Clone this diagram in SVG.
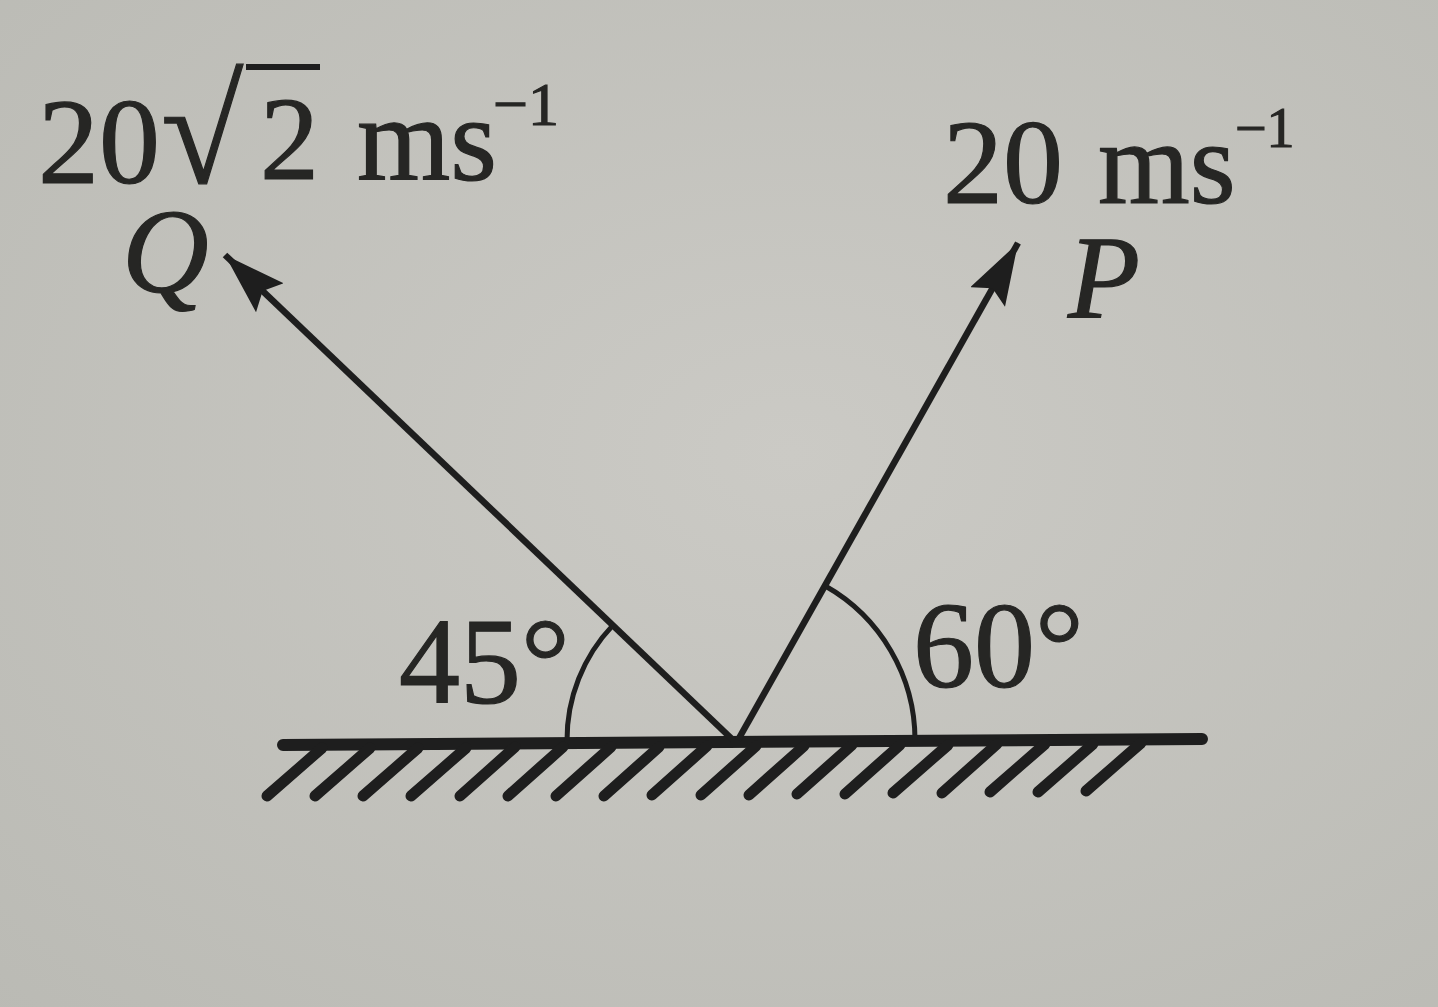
<svg xmlns="http://www.w3.org/2000/svg" width="1438" height="1007" viewBox="0 0 1438 1007">
<defs>
<radialGradient id="bg" cx="0.55" cy="0.45" r="0.8">
<stop offset="0" stop-color="#cbcac5"/>
<stop offset="1" stop-color="#babab4"/>
</radialGradient>
<marker id="ah" markerUnits="userSpaceOnUse" markerWidth="70" markerHeight="50" refX="62" refY="20" orient="auto">
<path d="M0,0 L62,20 L0,40 L10,20 z" fill="#1e1e1e"/>
</marker>
<style>
.t{font-family:"Liberation Serif","Times New Roman",serif;fill:#262624;stroke:#262624;stroke-width:1.2}
.i{font-style:italic}
.ln{stroke:#1e1e1e;fill:none}
.h{stroke:#1e1e1e;stroke-width:11;stroke-linecap:round}
</style>
</defs>
<rect width="1438" height="1007" fill="url(#bg)"/>
<g id="ground">
<line class="ln" x1="283" y1="745" x2="1202" y2="739" stroke-width="12" stroke-linecap="round"/>
<g id="hatch">
<line class="h" x1="322" y1="748" x2="267" y2="796"/>
<line class="h" x1="370" y1="748" x2="315" y2="796"/>
<line class="h" x1="418" y1="748" x2="363" y2="796"/>
<line class="h" x1="466" y1="748" x2="411" y2="796"/>
<line class="h" x1="515" y1="747" x2="460" y2="796"/>
<line class="h" x1="563" y1="747" x2="508" y2="796"/>
<line class="h" x1="611" y1="747" x2="556" y2="796"/>
<line class="h" x1="659" y1="747" x2="604" y2="796"/>
<line class="h" x1="707" y1="746" x2="652" y2="795"/>
<line class="h" x1="756" y1="746" x2="701" y2="795"/>
<line class="h" x1="804" y1="746" x2="749" y2="795"/>
<line class="h" x1="852" y1="745" x2="797" y2="794"/>
<line class="h" x1="900" y1="745" x2="845" y2="794"/>
<line class="h" x1="948" y1="745" x2="893" y2="793"/>
<line class="h" x1="997" y1="744" x2="942" y2="793"/>
<line class="h" x1="1045" y1="744" x2="990" y2="792"/>
<line class="h" x1="1093" y1="744" x2="1038" y2="792"/>
<line class="h" x1="1141" y1="743" x2="1086" y2="791"/>
</g>
</g>
<g id="connectors">
<line id="vQ" class="ln" x1="733" y1="740" x2="225" y2="255" stroke-width="6.5" marker-end="url(#ah)"/>
<line id="vP" class="ln" x1="738" y1="740" x2="1018" y2="243" stroke-width="6.5" marker-end="url(#ah)"/>
<path id="arc45" class="ln" d="M567,741 A166,166 0 0 1 612.8,625.4" stroke-width="5"/>
<path id="arc60" class="ln" d="M915,740 A177,177 0 0 0 824.9,585.8" stroke-width="5"/>
</g>
<g id="labelQ">
<text class="t" x="38" y="183" font-size="122">20</text>
<text class="t" x="161" y="183" font-size="150">√</text>
<line class="ln" x1="246" y1="67" x2="320" y2="67" stroke-width="6"/>
<text class="t" x="260" y="179" font-size="118">2</text>
<text class="t" x="357" y="180" font-size="120">ms</text>
<text class="t" x="493" y="125" font-size="62">−1</text>
<text class="t i" x="122" y="292" font-size="120">Q</text>
</g>
<g id="labelP">
<text class="t" x="943" y="203" font-size="120">20</text>
<text class="t" x="1098" y="203" font-size="118">ms</text>
<text class="t" x="1235" y="147" font-size="56">−1</text>
<text class="t i" x="1068" y="318" font-size="118">P</text>
</g>
<g id="angles">
<text class="t" x="399" y="703" font-size="122">45°</text>
<text class="t" x="913" y="687" font-size="122">60°</text>
</g>
</svg>
